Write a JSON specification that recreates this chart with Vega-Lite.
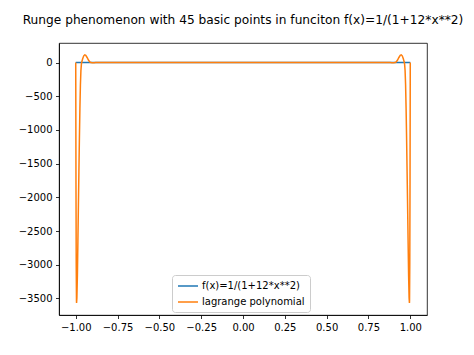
{
  "$schema": "https://vega.github.io/schema/vega-lite/v6.json",
  "autosize": {"type": "none"},
  "width": 368,
  "height": 272,
  "padding": {"left": 59, "top": 43, "right": 47, "bottom": 40},
  "background": "white",
  "title": {
    "text": "Runge phenomenon with 45 basic points in funciton f(x)=1/(1+12*x**2)",
    "font": "DejaVu Sans",
    "fontSize": 12.2,
    "fontWeight": "normal",
    "color": "black",
    "anchor": "middle",
    "baseline": "alphabetic",
    "offset": 7
  },
  "config": {
    "view": {"stroke": "black", "strokeWidth": 0.8},
    "axis": {
      "labelFont": "DejaVu Sans",
      "labelFontSize": 10,
      "labelColor": "black",
      "tickColor": "black",
      "tickSize": 3.5,
      "tickWidth": 0.8,
      "domainColor": "black",
      "domainWidth": 0.8,
      "grid": false,
      "labelPadding": 3.5,
      "title": null
    }
  },
  "datasets": {
    "pts": [
      {"x": -1.0, "y": 0.077, "s": "f(x)=1/(1+12*x**2)"},
      {"x": -0.95, "y": 0.085, "s": "f(x)=1/(1+12*x**2)"},
      {"x": -0.9, "y": 0.093, "s": "f(x)=1/(1+12*x**2)"},
      {"x": -0.85, "y": 0.103, "s": "f(x)=1/(1+12*x**2)"},
      {"x": -0.8, "y": 0.115, "s": "f(x)=1/(1+12*x**2)"},
      {"x": -0.75, "y": 0.129, "s": "f(x)=1/(1+12*x**2)"},
      {"x": -0.7, "y": 0.145, "s": "f(x)=1/(1+12*x**2)"},
      {"x": -0.65, "y": 0.165, "s": "f(x)=1/(1+12*x**2)"},
      {"x": -0.6, "y": 0.188, "s": "f(x)=1/(1+12*x**2)"},
      {"x": -0.55, "y": 0.216, "s": "f(x)=1/(1+12*x**2)"},
      {"x": -0.5, "y": 0.25, "s": "f(x)=1/(1+12*x**2)"},
      {"x": -0.45, "y": 0.292, "s": "f(x)=1/(1+12*x**2)"},
      {"x": -0.4, "y": 0.342, "s": "f(x)=1/(1+12*x**2)"},
      {"x": -0.35, "y": 0.405, "s": "f(x)=1/(1+12*x**2)"},
      {"x": -0.3, "y": 0.481, "s": "f(x)=1/(1+12*x**2)"},
      {"x": -0.25, "y": 0.571, "s": "f(x)=1/(1+12*x**2)"},
      {"x": -0.2, "y": 0.676, "s": "f(x)=1/(1+12*x**2)"},
      {"x": -0.15, "y": 0.787, "s": "f(x)=1/(1+12*x**2)"},
      {"x": -0.1, "y": 0.893, "s": "f(x)=1/(1+12*x**2)"},
      {"x": -0.05, "y": 0.971, "s": "f(x)=1/(1+12*x**2)"},
      {"x": 0.0, "y": 1.0, "s": "f(x)=1/(1+12*x**2)"},
      {"x": 0.05, "y": 0.971, "s": "f(x)=1/(1+12*x**2)"},
      {"x": 0.1, "y": 0.893, "s": "f(x)=1/(1+12*x**2)"},
      {"x": 0.15, "y": 0.787, "s": "f(x)=1/(1+12*x**2)"},
      {"x": 0.2, "y": 0.676, "s": "f(x)=1/(1+12*x**2)"},
      {"x": 0.25, "y": 0.571, "s": "f(x)=1/(1+12*x**2)"},
      {"x": 0.3, "y": 0.481, "s": "f(x)=1/(1+12*x**2)"},
      {"x": 0.35, "y": 0.405, "s": "f(x)=1/(1+12*x**2)"},
      {"x": 0.4, "y": 0.342, "s": "f(x)=1/(1+12*x**2)"},
      {"x": 0.45, "y": 0.292, "s": "f(x)=1/(1+12*x**2)"},
      {"x": 0.5, "y": 0.25, "s": "f(x)=1/(1+12*x**2)"},
      {"x": 0.55, "y": 0.216, "s": "f(x)=1/(1+12*x**2)"},
      {"x": 0.6, "y": 0.188, "s": "f(x)=1/(1+12*x**2)"},
      {"x": 0.65, "y": 0.165, "s": "f(x)=1/(1+12*x**2)"},
      {"x": 0.7, "y": 0.145, "s": "f(x)=1/(1+12*x**2)"},
      {"x": 0.75, "y": 0.129, "s": "f(x)=1/(1+12*x**2)"},
      {"x": 0.8, "y": 0.115, "s": "f(x)=1/(1+12*x**2)"},
      {"x": 0.85, "y": 0.103, "s": "f(x)=1/(1+12*x**2)"},
      {"x": 0.9, "y": 0.093, "s": "f(x)=1/(1+12*x**2)"},
      {"x": 0.95, "y": 0.085, "s": "f(x)=1/(1+12*x**2)"},
      {"x": 1.0, "y": 0.077, "s": "f(x)=1/(1+12*x**2)"},

      {"x": -1.0, "y": 0.08, "s": "lagrange polynomial"},
      {"x": -0.9985, "y": -1800, "s": "lagrange polynomial"},
      {"x": -0.997, "y": -3000, "s": "lagrange polynomial"},
      {"x": -0.9955, "y": -3530, "s": "lagrange polynomial"},
      {"x": -0.995, "y": -3565, "s": "lagrange polynomial"},
      {"x": -0.993, "y": -3490, "s": "lagrange polynomial"},
      {"x": -0.99, "y": -3150, "s": "lagrange polynomial"},
      {"x": -0.987, "y": -2650, "s": "lagrange polynomial"},
      {"x": -0.984, "y": -2120, "s": "lagrange polynomial"},
      {"x": -0.981, "y": -1620, "s": "lagrange polynomial"},
      {"x": -0.978, "y": -1120, "s": "lagrange polynomial"},
      {"x": -0.975, "y": -680, "s": "lagrange polynomial"},
      {"x": -0.972, "y": -330, "s": "lagrange polynomial"},
      {"x": -0.969, "y": -120, "s": "lagrange polynomial"},
      {"x": -0.966, "y": -20, "s": "lagrange polynomial"},
      {"x": -0.963, "y": 15, "s": "lagrange polynomial"},
      {"x": -0.958, "y": 60, "s": "lagrange polynomial"},
      {"x": -0.952, "y": 100, "s": "lagrange polynomial"},
      {"x": -0.946, "y": 115, "s": "lagrange polynomial"},
      {"x": -0.94, "y": 108, "s": "lagrange polynomial"},
      {"x": -0.932, "y": 75, "s": "lagrange polynomial"},
      {"x": -0.924, "y": 38, "s": "lagrange polynomial"},
      {"x": -0.916, "y": 10, "s": "lagrange polynomial"},
      {"x": -0.91, "y": 0.1, "s": "lagrange polynomial"},
      {"x": -0.9, "y": -3, "s": "lagrange polynomial"},
      {"x": -0.89, "y": -2, "s": "lagrange polynomial"},
      {"x": -0.88, "y": 0.1, "s": "lagrange polynomial"},
      {"x": -0.85, "y": 0.103, "s": "lagrange polynomial"},
      {"x": -0.8, "y": 0.115, "s": "lagrange polynomial"},
      {"x": -0.75, "y": 0.129, "s": "lagrange polynomial"},
      {"x": -0.7, "y": 0.145, "s": "lagrange polynomial"},
      {"x": -0.65, "y": 0.165, "s": "lagrange polynomial"},
      {"x": -0.6, "y": 0.188, "s": "lagrange polynomial"},
      {"x": -0.55, "y": 0.216, "s": "lagrange polynomial"},
      {"x": -0.5, "y": 0.25, "s": "lagrange polynomial"},
      {"x": -0.45, "y": 0.292, "s": "lagrange polynomial"},
      {"x": -0.4, "y": 0.342, "s": "lagrange polynomial"},
      {"x": -0.35, "y": 0.405, "s": "lagrange polynomial"},
      {"x": -0.3, "y": 0.481, "s": "lagrange polynomial"},
      {"x": -0.25, "y": 0.571, "s": "lagrange polynomial"},
      {"x": -0.2, "y": 0.676, "s": "lagrange polynomial"},
      {"x": -0.15, "y": 0.787, "s": "lagrange polynomial"},
      {"x": -0.1, "y": 0.893, "s": "lagrange polynomial"},
      {"x": -0.05, "y": 0.971, "s": "lagrange polynomial"},
      {"x": 0.0, "y": 1.0, "s": "lagrange polynomial"},
      {"x": 0.05, "y": 0.971, "s": "lagrange polynomial"},
      {"x": 0.1, "y": 0.893, "s": "lagrange polynomial"},
      {"x": 0.15, "y": 0.787, "s": "lagrange polynomial"},
      {"x": 0.2, "y": 0.676, "s": "lagrange polynomial"},
      {"x": 0.25, "y": 0.571, "s": "lagrange polynomial"},
      {"x": 0.3, "y": 0.481, "s": "lagrange polynomial"},
      {"x": 0.35, "y": 0.405, "s": "lagrange polynomial"},
      {"x": 0.4, "y": 0.342, "s": "lagrange polynomial"},
      {"x": 0.45, "y": 0.292, "s": "lagrange polynomial"},
      {"x": 0.5, "y": 0.25, "s": "lagrange polynomial"},
      {"x": 0.55, "y": 0.216, "s": "lagrange polynomial"},
      {"x": 0.6, "y": 0.188, "s": "lagrange polynomial"},
      {"x": 0.65, "y": 0.165, "s": "lagrange polynomial"},
      {"x": 0.7, "y": 0.145, "s": "lagrange polynomial"},
      {"x": 0.75, "y": 0.129, "s": "lagrange polynomial"},
      {"x": 0.8, "y": 0.115, "s": "lagrange polynomial"},
      {"x": 0.85, "y": 0.103, "s": "lagrange polynomial"},
      {"x": 0.88, "y": 0.1, "s": "lagrange polynomial"},
      {"x": 0.89, "y": -2, "s": "lagrange polynomial"},
      {"x": 0.9, "y": -3, "s": "lagrange polynomial"},
      {"x": 0.91, "y": 0.1, "s": "lagrange polynomial"},
      {"x": 0.916, "y": 10, "s": "lagrange polynomial"},
      {"x": 0.924, "y": 38, "s": "lagrange polynomial"},
      {"x": 0.932, "y": 75, "s": "lagrange polynomial"},
      {"x": 0.94, "y": 108, "s": "lagrange polynomial"},
      {"x": 0.946, "y": 115, "s": "lagrange polynomial"},
      {"x": 0.952, "y": 100, "s": "lagrange polynomial"},
      {"x": 0.958, "y": 60, "s": "lagrange polynomial"},
      {"x": 0.963, "y": 15, "s": "lagrange polynomial"},
      {"x": 0.966, "y": -20, "s": "lagrange polynomial"},
      {"x": 0.969, "y": -120, "s": "lagrange polynomial"},
      {"x": 0.972, "y": -330, "s": "lagrange polynomial"},
      {"x": 0.975, "y": -680, "s": "lagrange polynomial"},
      {"x": 0.978, "y": -1120, "s": "lagrange polynomial"},
      {"x": 0.981, "y": -1620, "s": "lagrange polynomial"},
      {"x": 0.984, "y": -2120, "s": "lagrange polynomial"},
      {"x": 0.987, "y": -2650, "s": "lagrange polynomial"},
      {"x": 0.99, "y": -3150, "s": "lagrange polynomial"},
      {"x": 0.993, "y": -3490, "s": "lagrange polynomial"},
      {"x": 0.995, "y": -3565, "s": "lagrange polynomial"},
      {"x": 0.9955, "y": -3530, "s": "lagrange polynomial"},
      {"x": 0.997, "y": -3000, "s": "lagrange polynomial"},
      {"x": 0.9985, "y": -1800, "s": "lagrange polynomial"},
      {"x": 1.0, "y": 0.08, "s": "lagrange polynomial"}
    ]
  },
  "data": {"name": "pts"},
  "encoding": {
    "x": {
      "field": "x",
      "type": "quantitative",
      "scale": {"domain": [-1.1, 1.1], "nice": false, "zero": false},
      "axis": {"values": [-1, -0.75, -0.5, -0.25, 0, 0.25, 0.5, 0.75, 1], "format": ".2f"}
    },
    "y": {
      "field": "y",
      "type": "quantitative",
      "scale": {"domain": [-3745, 290], "nice": false, "zero": false},
      "axis": {"values": [0, -500, -1000, -1500, -2000, -2500, -3000, -3500], "format": "d"}
    },
    "color": {
      "field": "s",
      "type": "nominal",
      "scale": {"domain": ["f(x)=1/(1+12*x**2)", "lagrange polynomial"], "range": ["#1f77b4", "#ff7f0e"]},
      "legend": {
        "title": null,
        "orient": "none",
        "legendX": 113,
        "legendY": 232,
        "labelFont": "DejaVu Sans",
        "labelFontSize": 10,
        "labelColor": "black",
        "symbolType": "M-2,0H2",
        "symbolSize": 100,
        "symbolStrokeWidth": 1.5,
        "symbolOffset": 5,
        "labelOffset": 8,
        "padding": 5,
        "rowPadding": 5,
        "strokeColor": "#cccccc",
        "fillColor": "rgba(255,255,255,0.8)",
        "cornerRadius": 3
      }
    }
  },
  "layer": [
    {
      "transform": [{"filter": "datum.s === 'f(x)=1/(1+12*x**2)'"}],
      "mark": {"type": "line", "strokeWidth": 1.5, "clip": true}
    },
    {
      "transform": [{"filter": "datum.s === 'lagrange polynomial'"}],
      "mark": {"type": "line", "strokeWidth": 1.5, "clip": true}
    }
  ]
}
